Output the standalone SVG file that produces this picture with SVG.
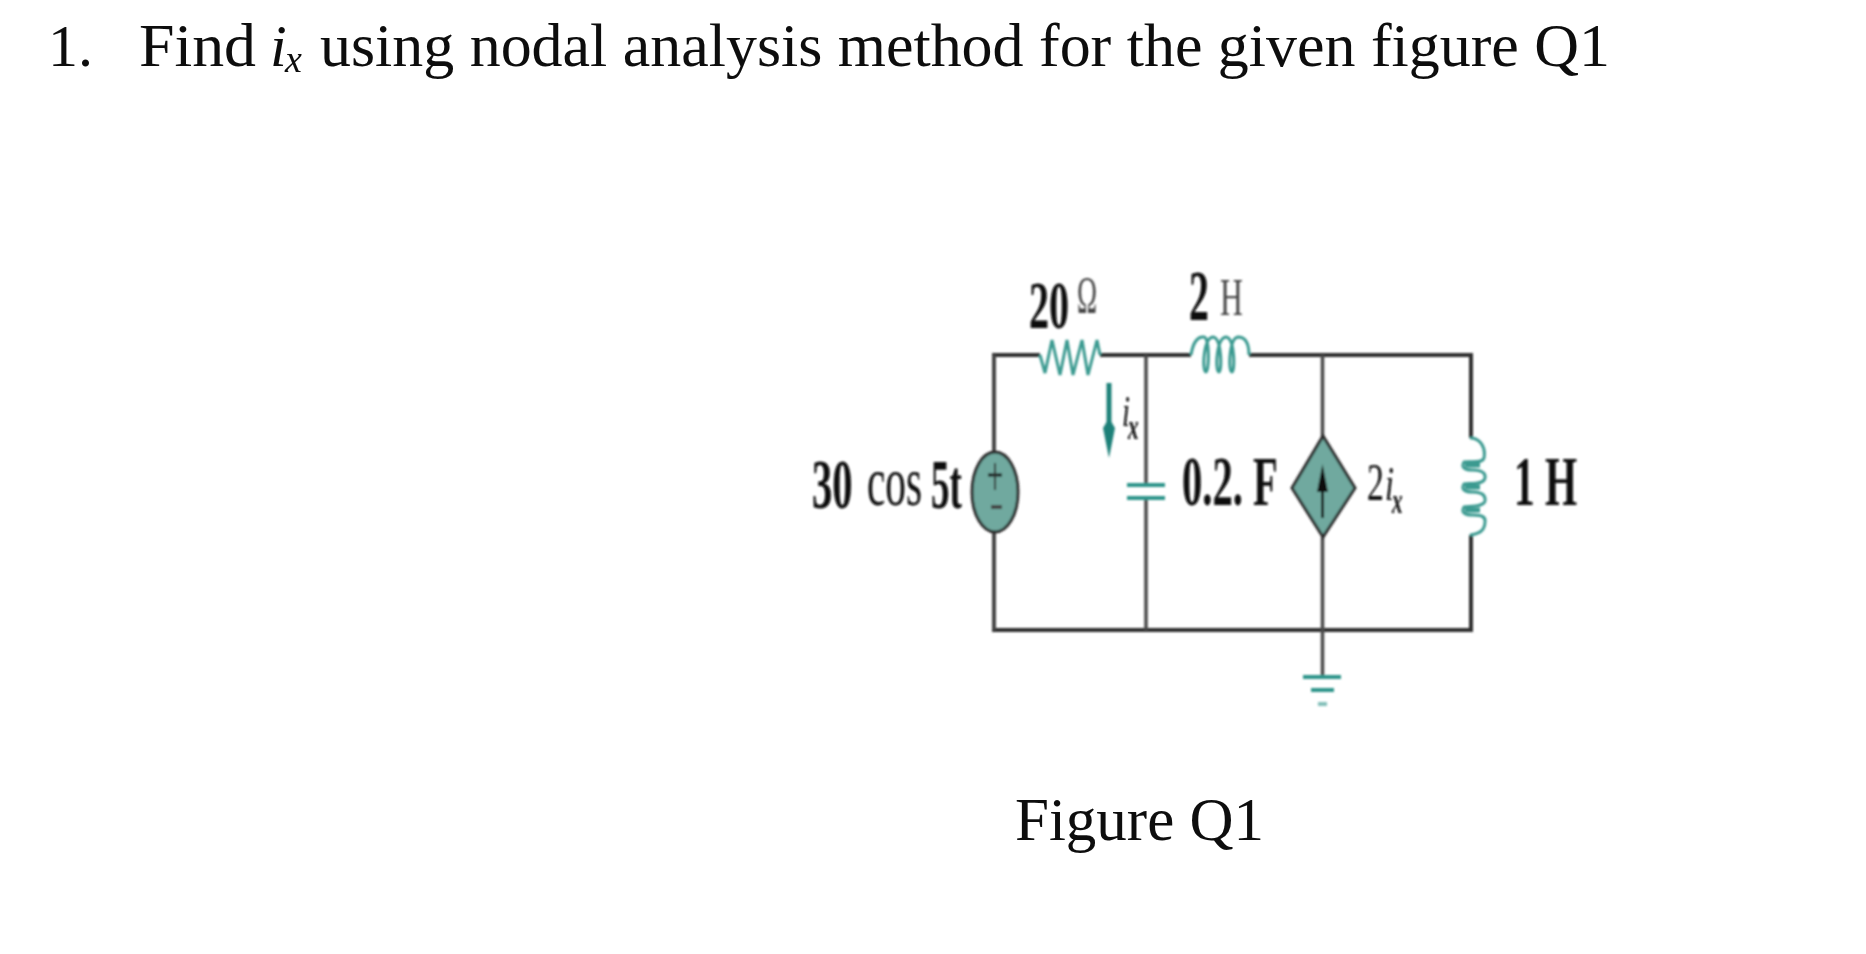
<svg xmlns="http://www.w3.org/2000/svg" width="1866" height="954" viewBox="0 0 1866 954">
<style>
text{font-family:"Liberation Serif","Times New Roman",serif;fill:#0a0a0a}
.w{fill:none;stroke:#484848;stroke-width:3.5}
.h{stroke:#2e2e2e;stroke-width:4}
.t{fill:none;stroke:#2f948a;stroke-width:4}
.c{fill:none;stroke:#3a9a90;stroke-width:3}
.f{fill:#6fa99f;stroke:#2a2a2a;stroke-width:3}
.b{font-weight:bold}
.g{fill:#444}
.i{font-style:italic}
</style>
<defs>
<filter id="soft" x="-2%" y="-2%" width="104%" height="104%"><feGaussianBlur stdDeviation="0.6"/></filter>
<filter id="softer" x="-2%" y="-2%" width="104%" height="104%"><feGaussianBlur stdDeviation="1"/></filter>
</defs>
<rect width="1866" height="954" fill="#fff"/>
<g filter="url(#soft)">
<g id="title">
<text x="48" y="66" font-size="60">1.</text>
<text x="139" y="66" font-size="62" textLength="117" lengthAdjust="spacingAndGlyphs">Find</text>
<text x="270" y="66" font-size="60" class="i">i</text>
<text x="285" y="72" font-size="38" class="i">x</text>
<text x="320" y="66" font-size="62" textLength="1290" lengthAdjust="spacingAndGlyphs">using nodal analysis method for the given figure Q1</text>
</g>
<g id="caption">
<text x="1015" y="840" font-size="62" textLength="249" lengthAdjust="spacingAndGlyphs">Figure Q1</text>
</g>
</g>
<g filter="url(#softer)">
<g id="connectors">
<path class="w h" d="M1040 355H994V453M1100 355H1191M1249 355H1471V438M994 532V630H1471V535"/>
<path class="w" d="M994 355V453M994 532V630M1146 355V485M1146 498V630M1322.500 355V437M1322.500 537V676"/>
</g>
<g id="resistor-20">
<path class="c" d="M1040 355L1045 373L1052 340L1060 375L1067 340L1073 375L1082 340L1088 375L1097 340L1100 355"/>
<text class="b" transform="translate(1029 328) scale(.59 1)" font-size="68">20</text>
<text class="g" transform="translate(1077 313) scale(.52 1)" font-size="52">Ω</text>
</g>
<g id="inductor-2h">
<path class="c" d="M1191 355C1193 342 1198 336 1204 337C1210 338 1209 372 1206 372C1202 372 1203 338 1213 337C1222 338 1222 372 1219 372C1215 372 1216 338 1226 337C1235 338 1235 372 1232 372C1228 372 1229 338 1238 337C1246 337 1249 345 1249 355"/>
<text class="b" transform="translate(1189 320) scale(.56 1)" font-size="71">2</text>
<text class="g" transform="translate(1220 315) scale(.61 1)" font-size="52">H</text>
</g>
<g id="current-ix">
<path d="M1109 383V424" stroke="#1f8078" stroke-width="5"/>
<path d="M1103 428L1109 418L1115 428L1109 458Z" fill="#1f8078"/>
<text class="i" transform="translate(1122 426) scale(.64 1)" font-size="45">i</text>
<text class="i b" transform="translate(1128 439) scale(.59 1)" font-size="36">x</text>
</g>
<g id="source">
<ellipse class="f" cx="995" cy="492" rx="23" ry="40"/>
<path d="M988 475H1002" stroke="#111" stroke-width="3"/>
<path d="M995 463V490" stroke="#333" stroke-width="2"/>
<path d="M991 507H1002" stroke="#444" stroke-width="4"/>
<text class="b" transform="translate(812 508) scale(.58 1)" font-size="70">30</text>
<text transform="translate(867 505) scale(.59 1)" font-size="70">cos</text>
<text class="b" transform="translate(931 508) scale(.53 1)" font-size="70">5t</text>
</g>
<g id="capacitor">
<path class="t" d="M1127 485H1165M1127 498H1165"/>
<text class="b" transform="translate(1182 505) scale(.58 1)" font-size="70" xml:space="preserve">0.2. F</text>
</g>
<g id="dep-source">
<path class="f" d="M1323 436L1355 488L1323 537L1292 488Z"/>
<path d="M1322.500 470V518" stroke="#111" stroke-width="3"/>
<path d="M1322.500 464L1328 492H1317Z" fill="#111"/>
<text transform="translate(1367 500) scale(.65 1)" font-size="52">2</text>
<text class="i" transform="translate(1385 500) scale(.67 1)" font-size="48">i</text>
<text class="i b" transform="translate(1392 513) scale(.59 1)" font-size="36">x</text>
</g>
<g id="inductor-1h">
<path class="c" d="M1470 438C1480 438 1486 447 1484 458C1482 464 1470 461 1464 462C1461 467 1464 470 1472 470C1480 470 1486 472 1485 478C1484 485 1470 483 1464 484C1461 489 1464 492 1472 492C1480 492 1486 494 1485 501C1484 507 1470 506 1464 507C1461 512 1464 515 1472 515C1480 515 1486 516 1485 522C1485 530 1480 534 1470 535"/>
<path d="M1465 465H1480M1465 487H1480M1465 510H1480" stroke="#3a9a90" stroke-width="5" fill="none"/>
<text class="b" transform="translate(1514 505) scale(.59 1)" font-size="70" xml:space="preserve">1 H</text>
</g>
<g id="ground">
<path class="t" d="M1303 677H1341"/>
<path class="t" d="M1311 690H1334"/>
<path class="t" style="stroke-opacity:.6" d="M1318 704H1327"/>
</g>
</g>
</svg>
